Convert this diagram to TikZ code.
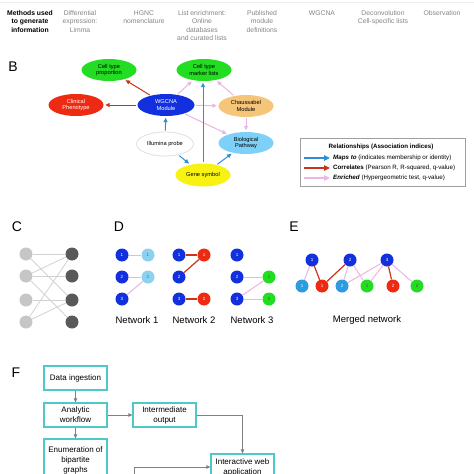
\documentclass[tikz,border=0pt]{standalone}
\usepackage{fontspec}
\setmainfont{Liberation Sans}
\usetikzlibrary{arrows.meta,shapes.geometric}
\definecolor{egreen}{HTML}{22DD22}
\definecolor{ered}{HTML}{EE2A12}
\definecolor{eblue}{HTML}{1230DD}
\definecolor{eorange}{HTML}{F5C57A}
\definecolor{elblue}{HTML}{7DD0F8}
\definecolor{eyellow}{HTML}{F8F212}
\definecolor{mapblue}{HTML}{2E8FD8}
\definecolor{corred}{HTML}{CC3418}
\definecolor{enrpink}{HTML}{EBB6E3}
\definecolor{nlblue}{HTML}{8AD2F0}
\definecolor{nmblue}{HTML}{2C9BE0}
\definecolor{teal}{HTML}{50C8C8}
\definecolor{toptxt}{HTML}{858585}
\tikzset{
  toptext/.style={font=\fontsize{6.8}{8.3}\selectfont, text=toptxt, align=center, anchor=north, inner sep=0},
  plabel/.style={font=\fontsize{14}{14}\selectfont, inner sep=0},
  ell/.style={ellipse, minimum width=55pt, minimum height=22pt, inner sep=0, font=\fontsize{5.7}{6.8}\selectfont, align=center},
  maps/.style={-{Triangle[length=4.5pt,width=4pt]}, draw=mapblue, line width=1pt, shorten >=1.5pt, shorten <=1pt},
  corr/.style={-{Triangle[length=4.5pt,width=4pt]}, draw=corred, line width=1pt, shorten >=1.5pt, shorten <=1pt},
  enr/.style={-{Triangle[length=4.5pt,width=4pt]}, draw=enrpink, line width=1pt, shorten >=1.5pt, shorten <=1pt},
  legarr/.style={-{Triangle[length=6pt,width=5.5pt]}, line width=2pt},
  legtxt/.style={font=\fontsize{6.2}{7}\selectfont, anchor=west, inner sep=0},
  lnode/.style={circle, fill=gray!45, minimum size=13pt, inner sep=0},
  rnode/.style={circle, fill=black!65, minimum size=13pt, inner sep=0},
  cedge/.style={draw=gray!35, line width=0.8pt},
  nn/.style={circle, minimum size=13pt, inner sep=0, font=\fontsize{4.5}{5}\selectfont},
  bn/.style={nn, fill=eblue, text=white},
  rn/.style={nn, fill=ered, text=white},
  gn/.style={nn, fill=egreen, text=black!70},
  lbn/.style={nn, fill=nlblue, text=black!60},
  mbn/.style={nn, fill=nmblue, text=white},
  pe/.style={draw=enrpink, line width=1pt},
  re/.style={draw=corred, line width=1.2pt},
  netlabel/.style={font=\fontsize{9.5}{10}\selectfont, inner sep=0},
  fbox/.style={draw=teal, line width=1.2pt, minimum width=63pt, minimum height=24pt, inner sep=0, align=center, font=\fontsize{8}{10}\selectfont},
  farr/.style={-{Triangle[length=4pt,width=3.5pt]}, draw=gray, line width=0.8pt}
}
\begin{document}
\begin{tikzpicture}[x=1pt,y=-1pt]
\useasboundingbox (0,0) rectangle (474,474);
\clip (0,0) rectangle (474,474);
\fill[white] (0,0) rectangle (474,474);
% top header
\draw[gray!12, line width=0.6pt] (0,2.5) -- (474,2.5);
\node[toptext, text=black, font=\fontsize{6.8}{8.3}\selectfont\bfseries] (h0) at (30,10.5) {Methods used\\to generate\\information};
\node[toptext] (h1) at (80,10.5) {Differential\\expression:\\Limma};
\node[toptext] (h2) at (144,10.5) {HGNC\\nomenclature};
\node[toptext] (h3) at (202,10.5) {List enrichment:\\Online\\databases\\and curated lists};
\node[toptext] (h4) at (262,10.5) {Published\\module\\definitions};
\node[toptext] (h5) at (322,10.5) {WGCNA};
\node[toptext] (h6) at (383,10.5) {Deconvolution\\Cell-specific lists};
\node[toptext] (h7) at (442,10.5) {Observation};
% panel B
\node[plabel] (lB) at (13,67) {B};
\node[ell, fill=egreen] (ctp) at (109,70) {Cell type\\proportion};
\node[ell, fill=ered, text=white] (clin) at (76,105) {Clinical\\Phenotype};
\node[ell, fill=eblue, text=white, minimum width=57pt] (wg) at (166,105) {WGCNA\\Module};
\node[ell, fill=egreen] (cml) at (204,70) {Cell type\\marker lists};
\node[ell, fill=eorange] (cha) at (246,106) {Chaussabel\\Module};
\node[ell, fill=elblue] (bio) at (246,143) {Biological\\Pathway};
\node[ell, fill=white, draw=gray!25, line width=0.8pt, minimum width=57pt, minimum height=24pt] (ill) at (165,144) {Illumina probe};
\node[ell, fill=eyellow, minimum height=23pt] (gene) at (203,175) {Gene symbol};
\draw[corr] (wg) -- (ctp);
\draw[corr] (wg) -- (clin);
\draw[enr] (wg) -- (cml);
\draw[enr] (wg) -- (cha);
\draw[enr] (wg) -- (bio);
\draw[enr] (cha) -- (cml);
\draw[enr] (cha) -- (bio);
\draw[maps] (ill) -- (wg);
\draw[maps] (ill) -- (gene);
\draw[maps] (gene.north) -- (gene.north |- cml.south);
\draw[maps] (gene) -- (bio);
% legend
\node[draw=gray!75, line width=0.6pt, minimum width=165pt, minimum height=48pt, inner sep=0] (leg) at (382.5,162) {};
\node[font=\fontsize{6.2}{7}\selectfont\bfseries, inner sep=0] (legt) at (381,147) {Relationships (Association indices)};
\coordinate (a1) at (304,158); \coordinate (b1) at (330,158);
\coordinate (a2) at (304,168); \coordinate (b2) at (330,168);
\coordinate (a3) at (304,178); \coordinate (b3) at (330,178);
\draw[legarr, draw=mapblue] (a1) -- (b1);
\draw[legarr, draw=corred] (a2) -- (b2);
\draw[legarr, draw=enrpink] (a3) -- (b3);
\node[legtxt] (l1) at (333,158) {\textbf{\textit{Maps to}} (indicates membership or identity)};
\node[legtxt] (l2) at (333,168) {\textbf{Correlates} (Pearson R, R-squared, q-value)};
\node[legtxt] (l3) at (333,178) {\textbf{\textit{Enriched}} (Hypergeometric test, q-value)};
% panel C
\node[plabel] (lC) at (17,227) {C};
\node[lnode] (L1) at (26,254) {}; \node[lnode] (L2) at (26,276) {};
\node[lnode] (L3) at (26,300) {}; \node[lnode] (L4) at (26,322) {};
\node[rnode] (R1) at (72,254) {}; \node[rnode] (R2) at (72,276) {};
\node[rnode] (R3) at (72,300) {}; \node[rnode] (R4) at (72,322) {};
\draw[cedge] (L1) -- (R1); \draw[cedge] (L1) -- (R3);
\draw[cedge] (L2) -- (R1); \draw[cedge] (L2) -- (R2); \draw[cedge] (L2) -- (R4);
\draw[cedge] (L3) -- (R3);
\draw[cedge] (L4) -- (R1); \draw[cedge] (L4) -- (R3);
% panel D
\node[plabel] (lD) at (119,227) {D};
\node[bn] (a1b1) at (122,255) {1}; \node[bn] (a1b2) at (122,277) {2}; \node[bn] (a1b3) at (122,299) {3};
\node[lbn] (a1l1) at (148,255) {1}; \node[lbn] (a1l2) at (148,277) {2};
\draw[pe] (a1b1) -- (a1l1); \draw[pe] (a1b2) -- (a1l2); \draw[pe] (a1b3) -- (a1l2);
\node[bn] (a2b1) at (179,255) {1}; \node[bn] (a2b2) at (179,277) {2}; \node[bn] (a2b3) at (179,299) {3};
\node[rn] (a2r1) at (204,255) {1}; \node[rn] (a2r2) at (204,299) {2};
\draw[re] (a2b1) -- (a2r1); \draw[re] (a2b2) -- (a2r1); \draw[re] (a2b3) -- (a2r2);
\node[bn] (a3b1) at (237,255) {1}; \node[bn] (a3b2) at (237,277) {2}; \node[bn] (a3b3) at (237,299) {3};
\node[gn] (a3g1) at (269,277) {1}; \node[gn] (a3g2) at (269,299) {2};
\draw[pe] (a3b2) -- (a3g1); \draw[pe] (a3b3) -- (a3g1); \draw[pe] (a3b3) -- (a3g2);
\node[netlabel] (n1) at (137,320) {Network 1};
\node[netlabel] (n2) at (194,320) {Network 2};
\node[netlabel] (n3) at (252,320) {Network 3};
% panel E
\node[plabel] (lE) at (294,227) {E};
\node[bn] (mb1) at (312,260) {1}; \node[bn] (mb2) at (350,260) {2}; \node[bn] (mb3) at (387,260) {3};
\node[mbn] (ml1) at (302,286) {1}; \node[rn] (mr1) at (322,286) {1}; \node[mbn] (ml2) at (342,286) {2};
\node[gn] (mg1) at (367,286) {1}; \node[rn] (mr2) at (393,286) {2}; \node[gn] (mg2) at (417,286) {2};
\draw[pe] (mb1) -- (ml1); \draw[re] (mb1) -- (mr1);
\draw[re] (mb2) -- (mr1); \draw[pe] (mb2) -- (ml2); \draw[pe] (mb2) -- (mg1);
\draw[pe] (mb3) -- (ml2); \draw[pe] (mb3) -- (mg1); \draw[re] (mb3) -- (mr2); \draw[pe] (mb3) -- (mg2);
\node[netlabel] (n4) at (367,320) {Merged network};
% panel F
\node[plabel] (lF) at (16,373) {F};
\node[fbox] (di) at (75.5,378) {Data ingestion};
\node[fbox] (aw) at (75.5,415) {Analytic\\workflow};
\node[fbox, minimum height=42pt] (en) at (75.5,460) {Enumeration of\\bipartite\\graphs};
\node[fbox] (io) at (164.5,415) {Intermediate\\output};
\node[fbox, minimum height=26pt] (iw) at (242.5,467) {Interactive web\\application};
\coordinate (src) at (134,490);
\draw[farr] (di) -- (aw);
\draw[farr] (aw) -- (en);
\draw[farr] (aw) -- (io);
\draw[farr] (io.east) -| (iw.north);
\draw[farr] (src) |- (iw.west);
\end{tikzpicture}
\end{document}
